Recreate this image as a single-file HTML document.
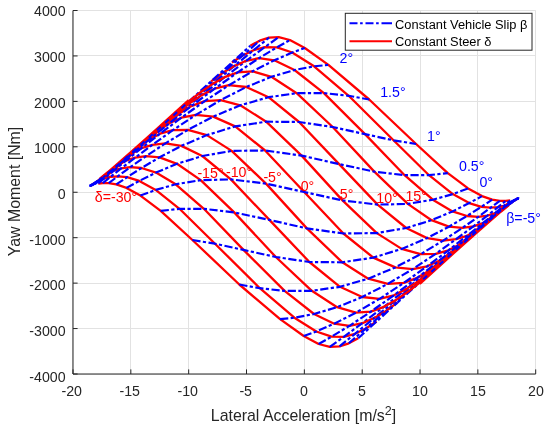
<!DOCTYPE html><html><head><meta charset="utf-8"><title>Yaw Moment Diagram</title><style>html,body{margin:0;padding:0;background:#fff}</style></head><body><svg width="550" height="430" viewBox="0 0 550 430" style="display:block;font-family:'Liberation Sans',sans-serif">
<rect width="550" height="430" fill="#fff"/>
<path d="M72.50 10.50V374.00M130.50 10.50V374.00M188.50 10.50V374.00M246.50 10.50V374.00M304.50 10.50V374.00M362.50 10.50V374.00M420.50 10.50V374.00M477.50 10.50V374.00M535.50 10.50V374.00M73.00 374.50H535.70M73.00 328.50H535.70M73.00 283.50H535.70M73.00 237.50H535.70M73.00 192.50H535.70M73.00 146.50H535.70M73.00 101.50H535.70M73.00 55.50H535.70M73.00 10.50H535.70" stroke="#e2e2e2" stroke-width="1" fill="none"/>
<g fill="none" stroke-width="2.18" stroke-linejoin="round">
<g stroke="#0000ff" stroke-dasharray="8.2 2.4 3.2 2.5">
<path d="M397.4 302.6L419.1 283.0L440.1 264.0L459.2 246.8L475.8 232.0L489.5 220.0L500.4 210.7L508.7 204.1L508.8 203.9" stroke-dashoffset="4.2"/>
<path d="M386.1 310.9L407.9 291.8L429.6 272.7L450.0 254.8L468.0 239.0L483.2 225.7L495.6 215.2L505.1 207.3L508.6 204.7" stroke-dashoffset="0.5"/>
<path d="M374.4 317.9L396.1 299.9L418.4 281.1L439.9 262.9L459.3 246.2L476.0 231.8L489.9 220.1L500.8 211.0L507.8 205.4" stroke-dashoffset="12.4"/>
<path d="M362.4 323.2L383.9 306.8L406.6 288.9L428.9 270.7L449.7 253.5L468.0 238.2L483.3 225.3L495.7 215.0L505.1 207.3L506.4 206.3" stroke-dashoffset="7.6"/>
<path d="M102.1 177.7L103.4 176.7L112.8 169.0L125.2 158.7L140.5 145.8L158.8 130.5L179.6 113.3L201.9 95.1L224.6 77.2L246.1 60.8" stroke-dashoffset="12.0"/>
<path d="M100.7 178.6L107.7 173.0L118.6 163.9L132.5 152.2L149.2 137.8L168.6 121.1L190.1 102.9L212.4 84.1L234.1 66.1" stroke-dashoffset="12.0"/>
<path d="M99.9 179.3L103.4 176.7L112.9 168.8L125.3 158.3L140.5 145.0L158.5 129.2L178.9 111.3L200.6 92.2L222.4 73.1" stroke-dashoffset="12.0"/>
<path d="M99.7 180.1L99.8 179.9L108.1 173.3L119.0 164.0L132.7 152.0L149.3 137.2L168.4 120.0L189.4 101.0L211.1 81.4" stroke-dashoffset="12.0"/>
</g><g stroke="#ff0000" stroke-width="2.30">
<path d="M98.3 183.5L102.8 183.1L108.7 183.2L116.3 184.4L126.5 187.9L140.4 195.6L160.7 210.9L192.4 240.0L239.3 284.5L280.1 319.1L303.7 336.0L318.6 344.0L329.8 346.8L339.5 346.3L348.8 343.3L358.2 338.3"/>
<path d="M90.7 185.8L92.0 184.8L93.9 183.5L96.6 181.9L100.1 180.0L104.6 178.2L110.5 176.9L117.8 176.3L127.1 177.2L139.3 180.9L155.7 189.9L179.5 208.8L215.0 243.7L259.8 288.2L294.4 317.7L316.3 331.5L331.5 336.7L343.8 336.8L355.0 333.8L365.8 328.5L376.6 321.5"/>
<path d="M94.1 184.0L96.4 181.9L99.5 179.5L103.4 176.7L108.0 173.5L113.8 170.6L121.2 168.4L130.2 167.2L141.5 168.0L156.0 172.6L175.7 184.3L203.9 208.8L243.5 249.9L284.6 290.9L314.0 314.0L334.2 323.7L349.5 325.8L362.4 323.2L374.4 317.9L386.1 310.9L397.4 302.6"/>
<path d="M99.8 179.9L103.4 176.7L107.7 173.0L112.8 169.0L118.8 164.6L126.0 160.6L135.1 157.7L146.1 156.1L159.6 157.3L177.0 163.8L200.7 180.1L234.2 212.4L275.8 257.0L311.8 290.8L337.1 307.2L355.9 312.7L370.8 311.7L383.9 306.8L396.1 299.9L407.9 291.8L419.1 283.0"/>
<path d="M108.1 173.3L112.9 168.8L118.6 163.9L125.2 158.7L132.6 153.1L141.5 148.2L152.4 144.8L165.4 143.4L181.4 145.9L202.3 156.0L230.9 179.4L269.4 219.9L309.4 262.0L340.0 286.8L362.2 297.0L379.6 298.8L393.9 295.3L406.6 288.9L418.4 281.1L429.6 272.7L440.1 264.0"/>
<path d="M119.0 164.0L125.3 158.3L132.5 152.2L140.5 145.8L149.5 139.3L160.0 133.7L172.8 130.2L187.9 129.8L206.8 135.1L231.7 150.9L266.0 183.6L306.9 228.4L342.3 262.3L368.2 278.7L387.8 283.9L403.8 282.9L417.2 277.9L428.9 270.7L439.9 262.9L450.0 254.8L459.2 246.8"/>
<path d="M132.7 152.0L140.5 145.0L149.2 137.8L158.8 130.5L169.3 123.3L181.4 117.7L195.8 114.9L213.2 116.6L235.2 126.4L265.1 150.5L304.2 192.0L343.4 233.5L373.3 257.6L395.3 267.4L412.7 269.1L427.1 266.3L439.2 260.7L449.7 253.5L459.3 246.2L468.0 239.0L475.8 232.0"/>
<path d="M149.3 137.2L158.5 129.2L168.6 121.1L179.6 113.3L191.3 106.1L204.7 101.1L220.7 100.1L240.3 105.3L266.2 121.7L301.6 155.6L342.5 200.4L376.8 233.1L401.7 248.9L420.6 254.2L435.7 253.8L448.5 250.3L459.0 244.7L468.0 238.2L476.0 231.8L483.2 225.7L489.5 220.0"/>
<path d="M168.4 120.0L178.9 111.3L190.1 102.9L201.9 95.1L214.6 88.7L228.9 85.2L246.3 87.0L268.5 97.2L299.1 122.0L339.1 164.1L377.6 204.6L406.2 228.0L427.1 238.1L443.1 240.6L456.1 239.2L467.0 235.8L475.9 230.9L483.3 225.3L489.9 220.1L495.6 215.2L500.4 210.7"/>
<path d="M189.4 101.0L200.6 92.2L212.4 84.1L224.6 77.2L237.7 72.3L252.6 71.3L271.4 76.8L296.7 93.2L332.7 127.0L374.3 171.6L407.8 203.9L431.5 220.2L448.9 226.7L462.4 227.9L473.4 226.3L482.5 223.4L489.7 219.4L495.7 215.0L500.8 211.0L505.1 207.3L508.7 204.1"/>
<path d="M211.1 81.4L222.4 73.1L234.1 66.1L246.1 60.8L259.0 58.2L274.3 60.3L294.5 70.0L323.9 93.1L365.0 134.1L404.6 175.2L432.8 199.7L452.5 211.4L467.0 216.0L478.3 216.8L487.3 215.6L494.7 213.4L500.5 210.5L505.1 207.3L509.0 204.5L512.1 202.1L514.4 200.0"/>
<path d="M231.9 62.5L242.7 55.5L253.5 50.2L264.7 47.2L277.0 47.3L292.2 52.5L314.1 66.3L348.7 95.8L393.5 140.3L429.0 175.2L452.8 194.1L469.2 203.1L481.4 206.8L490.7 207.7L498.0 207.1L503.9 205.8L508.4 204.0L511.9 202.1L514.6 200.5L516.5 199.2L517.8 198.2"/>
<path d="M250.3 45.7L259.7 40.7L269.0 37.7L278.7 37.2L289.9 40.0L304.8 48.0L328.4 64.9L369.2 99.5L416.1 144.0L447.8 173.1L468.1 188.4L482.0 196.1L492.2 199.6L499.8 200.8L505.7 200.9L510.2 200.5"/>
<path d="M100.5 179.4L108.1 173.3L119.0 164.0L132.7 152.0L149.3 137.2L168.4 120.0L189.4 101.0" stroke-width="4.4"/>
<path d="M508.0 204.6L500.4 210.7L489.5 220.0L475.8 232.0L459.2 246.8L440.1 264.0L419.1 283.0" stroke-width="4.4"/>
</g><g stroke="#0000ff" stroke-dasharray="5 6">
<path d="M89.5 185.2L90.7 185.8L94.1 184.0L99.8 179.9L108.1 173.3L119.0 164.0L132.7 152.0L149.3 137.2L168.4 120.0L189.4 101.0"/>
<path d="M519.0 198.8L517.8 198.2L514.4 200.0L508.7 204.1L500.4 210.7L489.5 220.0L475.8 232.0L459.2 246.8L440.1 264.0L419.1 283.0"/>
</g><g stroke="#0000ff" stroke-dasharray="8.2 2.4 3.2 2.5">
<path d="M358.2 338.3L376.6 321.5L397.4 302.6"/>
<path d="M508.8 203.9L514.4 200.0L517.8 198.2L519.0 198.8" stroke-dashoffset="6.3"/>
<path d="M348.8 343.3L365.8 328.5L386.1 310.9"/>
<path d="M508.6 204.7L512.1 202.1L516.5 199.2L518.7 198.6" stroke-dashoffset="15.9"/>
<path d="M339.5 346.3L355.0 333.8L374.4 317.9"/>
<path d="M507.8 205.4L509.0 204.5L514.6 200.5L517.8 198.8" stroke-dashoffset="7.6"/>
<path d="M329.8 346.8L343.8 336.8L362.4 323.2"/>
<path d="M506.4 206.3L511.9 202.1L516.1 199.2" stroke-dashoffset="13.9"/>
<path d="M318.6 344.0L331.5 336.7L349.5 325.8L370.8 311.7L393.9 295.3L417.2 277.9L439.2 260.7L459.0 244.7L475.9 230.9L489.7 219.4L500.5 210.5L508.4 204.0L513.6 199.8"/>
<path d="M303.7 336.0L316.3 331.5L334.2 323.7L355.9 312.7L379.6 298.8L403.8 282.9L427.1 266.3L448.5 250.3L467.0 235.8L482.5 223.4L494.7 213.4L503.9 205.8L510.2 200.5"/>
<path d="M280.1 319.1L294.4 317.7L314.0 314.0L337.1 307.2L362.2 297.0L387.8 283.9L412.7 269.1L435.7 253.8L456.1 239.2L473.4 226.3L487.3 215.6L498.0 207.1L505.7 200.9"/>
<path d="M239.3 284.5L259.8 288.2L284.6 290.9L311.8 290.8L340.0 286.8L368.2 278.7L395.3 267.4L420.6 254.2L443.1 240.6L462.4 227.9L478.3 216.8L490.7 207.7L499.8 200.8"/>
<path d="M192.4 240.0L215.0 243.7L243.5 249.9L275.8 257.0L309.4 262.0L342.3 262.3L373.3 257.6L401.7 248.9L427.1 238.1L448.9 226.7L467.0 216.0L481.4 206.8L492.2 199.6"/>
<path d="M160.7 210.9L179.5 208.8L203.9 208.8L234.2 212.4L269.4 219.9L306.9 228.4L343.4 233.5L376.8 233.1L406.2 228.0L431.5 220.2L452.5 211.4L469.2 203.1L482.0 196.1"/>
<path d="M140.4 195.6L155.7 189.9L175.7 184.3L200.7 180.1L230.9 179.4L266.0 183.6L304.2 192.0L342.5 200.4L377.6 204.6L407.8 203.9L432.8 199.7L452.8 194.1L468.1 188.4"/>
<path d="M126.5 187.9L139.3 180.9L156.0 172.6L177.0 163.8L202.3 156.0L231.7 150.9L265.1 150.5L301.6 155.6L339.1 164.1L374.3 171.6L404.6 175.2L429.0 175.2L447.8 173.1"/>
<path d="M116.3 184.4L127.1 177.2L141.5 168.0L159.6 157.3L181.4 145.9L206.8 135.1L235.2 126.4L266.2 121.7L299.1 122.0L332.7 127.0L365.0 134.1L393.5 140.3L416.1 144.0"/>
<path d="M108.7 183.2L117.8 176.3L130.2 167.2L146.1 156.1L165.4 143.4L187.9 129.8L213.2 116.6L240.3 105.3L268.5 97.2L296.7 93.2L323.9 93.1L348.7 95.8L369.2 99.5"/>
<path d="M102.8 183.1L110.5 176.9L121.2 168.4L135.1 157.7L152.4 144.8L172.8 130.2L195.8 114.9L220.7 100.1L246.3 87.0L271.4 76.8L294.5 70.0L314.1 66.3L328.4 64.9"/>
<path d="M98.3 183.5L104.6 178.2L113.8 170.6L126.0 160.6L141.5 148.2L160.0 133.7L181.4 117.7L204.7 101.1L228.9 85.2L252.6 71.3L274.3 60.3L292.2 52.5L304.8 48.0"/>
<path d="M94.9 184.2L100.1 180.0L108.0 173.5L118.8 164.6L132.6 153.1L149.5 139.3L169.3 123.3L191.3 106.1L214.6 88.7L237.7 72.3L259.0 58.2L277.0 47.3L289.9 40.0"/>
<path d="M92.4 184.8L96.6 181.9L102.1 177.7"/>
<path d="M246.1 60.8L264.7 47.2L278.7 37.2" stroke-dashoffset="1.9"/>
<path d="M90.7 185.2L93.9 183.5L99.5 179.5L100.7 178.6"/>
<path d="M234.1 66.1L253.5 50.2L269.0 37.7" stroke-dashoffset="7.2"/>
<path d="M89.8 185.4L92.0 184.8L96.4 181.9L99.9 179.3"/>
<path d="M222.4 73.1L242.7 55.5L259.7 40.7" stroke-dashoffset="11.1"/>
<path d="M89.5 185.2L90.7 185.8L94.1 184.0L99.7 180.1"/>
<path d="M211.1 81.4L231.9 62.5L250.3 45.7" stroke-dashoffset="14.1"/>
</g></g>
<path d="M73.00 10.50V374.00H535.70M73.00 374.00v-4.6M130.84 374.00v-4.6M188.68 374.00v-4.6M246.51 374.00v-4.6M304.35 374.00v-4.6M362.19 374.00v-4.6M420.03 374.00v-4.6M477.86 374.00v-4.6M535.70 374.00v-4.6M73.00 374.00h4.6M73.00 328.56h4.6M73.00 283.12h4.6M73.00 237.69h4.6M73.00 192.25h4.6M73.00 146.81h4.6M73.00 101.38h4.6M73.00 55.94h4.6M73.00 10.50h4.6" stroke="#262626" stroke-width="1" fill="none"/>
<g fill="#262626" font-size="14.2px">
<text x="71.7" y="396.2" text-anchor="middle">-20</text>
<text x="129.7" y="396.2" text-anchor="middle">-15</text>
<text x="187.7" y="396.2" text-anchor="middle">-10</text>
<text x="245.7" y="396.2" text-anchor="middle">-5</text>
<text x="303.9" y="396.2" text-anchor="middle">0</text>
<text x="361.9" y="396.2" text-anchor="middle">5</text>
<text x="419.9" y="396.2" text-anchor="middle">10</text>
<text x="477.9" y="396.2" text-anchor="middle">15</text>
<text x="535.9" y="396.2" text-anchor="middle">20</text>
<text x="65.6" y="381.8" text-anchor="end">-4000</text>
<text x="65.6" y="336.1" text-anchor="end">-3000</text>
<text x="65.6" y="290.4" text-anchor="end">-2000</text>
<text x="65.6" y="244.7" text-anchor="end">-1000</text>
<text x="65.6" y="199.0" text-anchor="end">0</text>
<text x="65.6" y="153.3" text-anchor="end">1000</text>
<text x="65.6" y="107.6" text-anchor="end">2000</text>
<text x="65.6" y="61.9" text-anchor="end">3000</text>
<text x="65.6" y="16.2" text-anchor="end">4000</text>
</g>
<text x="303.5" y="421" text-anchor="middle" fill="#262626" font-size="15.9px">Lateral Acceleration [m/s<tspan dy="-6.5" font-size="12.5px">2</tspan><tspan dy="6.5">]</tspan></text>
<text transform="translate(19.8,191.5) rotate(-90)" text-anchor="middle" fill="#262626" font-size="15.9px">Yaw Moment [Nm]</text>
<rect x="345.3" y="13.3" width="186.7" height="36.9" fill="#fff" stroke="#262626" stroke-width="1"/>
<path d="M349.5 23.3H392" stroke="#0000ff" stroke-width="2.1" stroke-dasharray="8 2.6 2.6 2.8 8 2.6 2.6 2.8 10.5 20" fill="none"/>
<path d="M349.5 41.3H392" stroke="#ff0000" stroke-width="2.1" fill="none"/>
<g fill="#000" font-size="12.85px"><text x="395.1" y="29.1">Constant Vehicle Slip β</text><text x="395.1" y="46">Constant Steer δ</text></g>
<g font-size="14.2px" fill="#0000ff">
<text x="339.6" y="62.5">2°</text>
<text x="380.2" y="96.6">1.5°</text>
<text x="427.0" y="141.1">1°</text>
<text x="459.0" y="171.4">0.5°</text>
<text x="479.4" y="186.8">0°</text>
<text x="506.2" y="223.3">β=-5°</text>
</g><g font-size="14.2px" fill="#ff0000">
<text x="197.4" y="178">-15°</text>
<text x="226" y="177">-10°</text>
<text x="263.4" y="181.6">-5°</text>
<text x="300.7" y="190.5">0°</text>
<text x="339.8" y="198.5">5°</text>
<text x="376.3" y="202.7">10°</text>
<text x="405.4" y="201">15°</text>
<text x="94.8" y="201.6">δ=-30°</text>
</g>
</svg></body></html>
